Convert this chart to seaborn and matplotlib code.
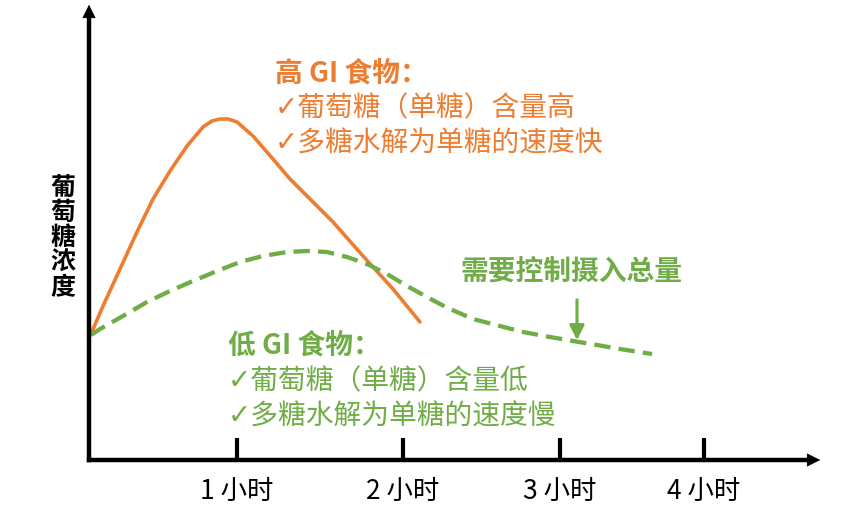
import matplotlib
matplotlib.use("Agg")
import matplotlib.pyplot as plt
import seaborn as sns

sns.set_theme(style="white")
plt.rcParams['font.family'] = ['Noto Sans CJK SC', 'DejaVu Sans']

orange = "#ED7D31"
green = "#70AD47"

# data (x: time position, y: glucose level, picture units, y grows downward)
high_gi_x = [91, 103, 120, 137, 153, 170, 187, 203, 212, 220, 228, 237, 253, 273, 290, 307, 333, 363, 393, 420]
high_gi_y = [335, 307, 270, 233, 200, 172, 147, 128, 122, 120, 120, 123, 137, 160, 180, 197, 223, 257, 290, 323]

low_gi_x = [91, 100, 123, 147, 170, 193, 217, 240, 263, 287, 307, 327, 347, 367, 387, 407, 427, 440,
            450, 473, 500, 523, 550, 573, 597, 620, 652]
low_gi_y = [336, 330, 317, 303, 292, 282, 272, 263, 257, 253, 252, 253, 258, 265, 275, 287, 298, 305,
            310, 320, 327, 333, 338, 342, 346, 350, 355]

tick_pos = [237, 403, 560, 704]
tick_labels = ["1 小时", "2 小时", "3 小时", "4 小时"]
origin = (89, 461)

check_fonts = ['DejaVu Sans', 'Noto Sans CJK SC']

fig = plt.figure(figsize=(8.64, 5.10), dpi=100)
ax = fig.add_axes([0, 0, 1, 1])
ax.set_xlim(0, 864)
ax.set_ylim(510, 0)

sns.lineplot(x=high_gi_x, y=high_gi_y, sort=False, color=orange, linewidth=2.6, ax=ax)
sns.lineplot(x=low_gi_x, y=low_gi_y, sort=False, color=green, linewidth=3.1,
             linestyle=(0, (3.8, 1.9)), ax=ax)

# axes drawn as spines with arrow heads
for s in ["top", "right"]:
    ax.spines[s].set_visible(False)
ax.spines["bottom"].set_position(("data", origin[1]))
ax.spines["left"].set_position(("data", origin[0]))
ax.spines["bottom"].set_bounds(origin[0], 810)
ax.spines["left"].set_bounds(origin[1], 15)
for s in ["bottom", "left"]:
    ax.spines[s].set_color("black")
    ax.spines[s].set_linewidth(3.2)
ax.annotate("", xy=(823, origin[1]), xytext=(805, origin[1]),
            arrowprops=dict(arrowstyle="-|>", color="black", lw=0.5, mutation_scale=22))
ax.annotate("", xy=(origin[0], 3), xytext=(origin[0], 20),
            arrowprops=dict(arrowstyle="-|>", color="black", lw=0.5, mutation_scale=22))

ax.set_xticks(tick_pos, tick_labels)
ax.set_yticks([])
ax.tick_params(axis="x", direction="in", length=16, width=3, colors="black",
               labelsize=19, pad=12, bottom=True)

ax.text(63, 238, "\n".join("葡萄糖浓度"), ha="center", va="center",
        fontsize=18, fontweight="bold", linespacing=1.05, color="black")

ax.text(275, 73, "高 GI 食物：", color=orange, fontsize=20, fontweight="bold", va="center")
ax.text(275, 108, "✓葡萄糖（单糖）含量高", color=orange, fontsize=20, va="center", family=check_fonts)
ax.text(275, 144, "✓多糖水解为单糖的速度快", color=orange, fontsize=20, va="center", family=check_fonts)

ax.text(228, 345, "低 GI 食物：", color=green, fontsize=20, fontweight="bold", va="center")
ax.text(228, 381, "✓葡萄糖（单糖）含量低", color=green, fontsize=20, va="center", family=check_fonts)
ax.text(228, 417, "✓多糖水解为单糖的速度慢", color=green, fontsize=20, va="center", family=check_fonts)

ax.text(572, 272, "需要控制摄入总量", color=green, fontsize=20, fontweight="bold",
        ha="center", va="center")
ax.annotate("", xy=(577, 344), xytext=(577, 298),
            arrowprops=dict(arrowstyle="-|>", color=green, lw=2.2, mutation_scale=22))

fig.savefig("out.png", dpi=100)
